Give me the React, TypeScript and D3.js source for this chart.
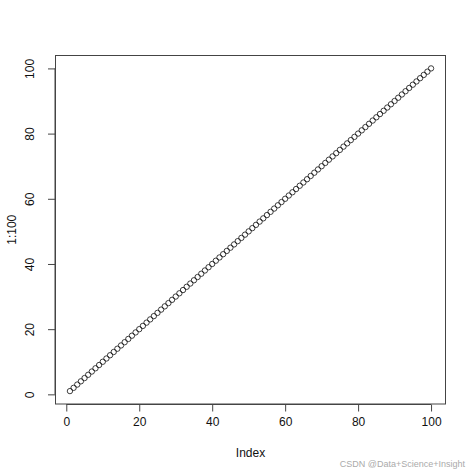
import React, { useEffect, useRef } from "react";
import * as d3 from "d3";

// plot(1:100) — y values and their index
const values = [
  1, 2, 3, 4, 5, 6, 7, 8, 9, 10, 11, 12, 13, 14, 15, 16, 17, 18, 19, 20,
  21, 22, 23, 24, 25, 26, 27, 28, 29, 30, 31, 32, 33, 34, 35, 36, 37, 38, 39, 40,
  41, 42, 43, 44, 45, 46, 47, 48, 49, 50, 51, 52, 53, 54, 55, 56, 57, 58, 59, 60,
  61, 62, 63, 64, 65, 66, 67, 68, 69, 70, 71, 72, 73, 74, 75, 76, 77, 78, 79, 80,
  81, 82, 83, 84, 85, 86, 87, 88, 89, 90, 91, 92, 93, 94, 95, 96, 97, 98, 99, 100,
];
const xTicks = [0, 20, 40, 60, 80, 100];
const yTicks = [0, 20, 40, 60, 80, 100];
const xLabel = "Index";
const yLabel = "1:100";
const watermark = "CSDN @Data+Science+Insight";

const width = 474;
const height = 474;
const plot = { left: 55.5, top: 55.5, right: 445.5, bottom: 404 };
const font = "'Liberation Sans', Arial, sans-serif";

const App = () => {
  const ref = useRef<SVGSVGElement>(null);

  useEffect(() => {
    const svg = d3.select(ref.current);
    svg.selectAll("*").remove();

    // R pads the data range by 4%
    const pad = (100 - 1) * 0.04;
    const x = d3.scaleLinear().domain([1 - pad, 100 + pad]).range([plot.left, plot.right]);
    const y = d3.scaleLinear().domain([1 - pad, 100 + pad]).range([plot.bottom, plot.top]);

    svg.append("rect").attr("width", width).attr("height", height).attr("fill", "#fff");

    // box
    svg
      .append("rect")
      .attr("x", plot.left)
      .attr("y", plot.top)
      .attr("width", plot.right - plot.left)
      .attr("height", plot.bottom - plot.top)
      .attr("fill", "none")
      .attr("stroke", "#444")
      .attr("stroke-width", 1);

    // x axis
    const xAxis = svg
      .append("g")
      .attr("transform", `translate(0,${plot.bottom + 0.5})`)
      .call(d3.axisBottom(x).tickValues(xTicks).tickSize(7).tickPadding(6).tickFormat(d3.format("d")));
    xAxis.select(".domain").attr("d", `M${x(0)},0H${x(100)}`).attr("stroke", "#444");
    xAxis.selectAll(".tick line").attr("stroke", "#444");
    xAxis.selectAll("text").attr("font-family", font).attr("font-size", 12).attr("fill", "#111");

    // y axis
    const yAxis = svg
      .append("g")
      .attr("transform", `translate(${plot.left - 0.5},0)`)
      .call(d3.axisLeft(y).tickValues(yTicks).tickSize(7).tickFormat(d3.format("d")));
    yAxis.select(".domain").attr("d", `M0,${y(0)}V${y(100)}`).attr("stroke", "#444");
    yAxis.selectAll(".tick line").attr("stroke", "#444");
    yAxis
      .selectAll("text")
      .attr("font-family", font)
      .attr("font-size", 12)
      .attr("fill", "#111")
      .attr("x", null)
      .attr("dy", null)
      .attr("text-anchor", "middle")
      .attr("transform", "translate(-21,0) rotate(-90)");

    // points
    svg
      .append("g")
      .selectAll("circle")
      .data(values)
      .join("circle")
      .attr("cx", (d, i) => x(i + 1))
      .attr("cy", (d) => y(d))
      .attr("r", 2.7)
      .attr("fill", "none")
      .attr("stroke", "#111")
      .attr("stroke-width", 0.8);

    // axis titles
    svg
      .append("text")
      .text(xLabel)
      .attr("x", (plot.left + plot.right) / 2)
      .attr("y", 457)
      .attr("text-anchor", "middle")
      .attr("font-family", font)
      .attr("font-size", 12)
      .attr("fill", "#111");

    svg
      .append("text")
      .text(yLabel)
      .attr("transform", `translate(16,${(plot.top + plot.bottom) / 2}) rotate(-90)`)
      .attr("text-anchor", "middle")
      .attr("font-family", font)
      .attr("font-size", 12)
      .attr("fill", "#111");

    svg
      .append("text")
      .text(watermark)
      .attr("x", 465)
      .attr("y", 467)
      .attr("text-anchor", "end")
      .attr("font-family", font)
      .attr("font-size", 9)
      .attr("fill", "#aaa");
  }, []);

  return (
    <svg
      ref={ref}
      width={width}
      height={height}
      viewBox={`0 0 ${width} ${height}`}
      style={{ position: "absolute", left: 0, top: 0 }}></svg>
  );
};

export default App;
